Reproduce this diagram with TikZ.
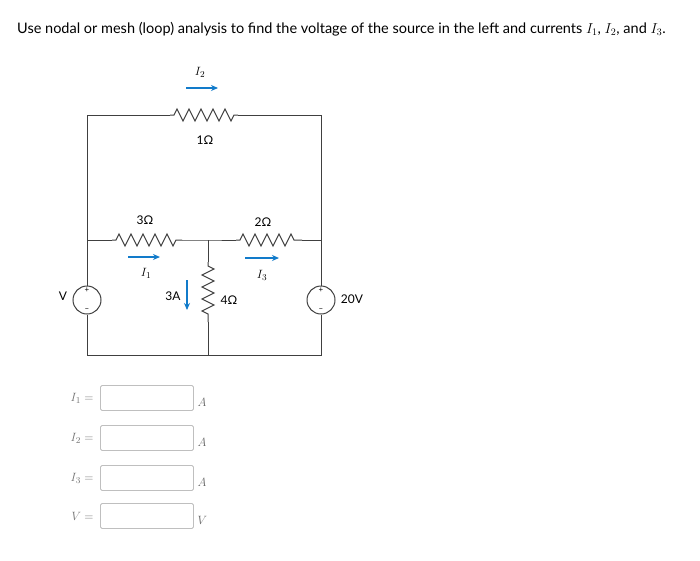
\documentclass[tikz,border=0pt]{standalone}
\usepackage{fontspec}
\setmainfont{Lato}
\usetikzlibrary{decorations.pathmorphing,arrows.meta}
\begin{document}
\begin{tikzpicture}[x=1pt,y=-1pt,
  wire/.style={draw=black!75,line width=1pt},
  res/.style={wire,decorate,decoration={zigzag,segment length=12pt,amplitude=6pt,pre length=4pt,post length=4pt}},
  cur/.style={draw=cyan!60!blue,line width=1.4pt,-{Stealth[length=7pt,width=6pt]}},
  lbl/.style={font=\fontsize{12}{14}\selectfont},
  mi/.style={font=\fontsize{13}{15}\selectfont},
  pm/.style={font=\fontsize{8}{9}\selectfont,inner sep=0pt},
  box/.style={draw=black!25,line width=0.8pt,rounded corners=1.5pt,minimum width=93pt,minimum height=25pt},
  src/.style={circle,draw=black!75,line width=1pt,minimum size=28pt,inner sep=0pt}]
\useasboundingbox (0,0) rectangle (700,560);
\fill[white] (0,0) rectangle (700,560);
\node[anchor=west,font=\fontsize{14.5}{17}\selectfont,inner sep=0pt] (title) at (17,29) {Use nodal or mesh (loop) analysis to find the voltage of the source in the left and currents $I_1$, $I_2$, and $I_3$.};
% nodes
\coordinate (tl) at (87,115); \coordinate (tr) at (321,115);
\coordinate (ml) at (87,240); \coordinate (mm) at (208,240); \coordinate (mr) at (321,240);
\coordinate (bl) at (87,355); \coordinate (bm) at (208,355); \coordinate (br) at (321,355);
\node[src] (vs1) at (87,300) {};
\node[src] (vs2) at (321,300) {};
\node[pm] at (87,290) {+}; \node[pm] at (87,310) {--};
\node[pm] at (321,290) {+}; \node[pm] at (321,310) {--};
\coordinate (r1a) at (170,115); \coordinate (r1b) at (238,115);
\coordinate (r3a) at (112,240); \coordinate (r3b) at (182,240);
\coordinate (r2a) at (236,240); \coordinate (r2b) at (302,240);
\coordinate (r4a) at (208,262); \coordinate (r4b) at (208,322);
\draw[wire] (vs1.north) -- (tl) -- (r1a);
\draw[res] (r1a) -- (r1b);
\draw[wire] (r1b) -- (tr) -- (vs2.north);
\draw[wire] (ml) -- (r3a); \draw[res] (r3a) -- (r3b); \draw[wire] (r3b) -- (mm) -- (r2a);
\draw[res] (r2a) -- (r2b); \draw[wire] (r2b) -- (mr);
\draw[wire] (mm) -- (r4a); \draw[res] (r4a) -- (r4b); \draw[wire] (r4b) -- (bm);
\draw[wire] (vs1.south) -- (bl) -- (br) -- (vs2.south);
% labels
\node[mi] (i2l) at (200,72) {$I_2$};
\coordinate (i2a) at (186,88); \coordinate (i2b) at (218,88); \draw[cur] (i2a) -- (i2b);
\node[lbl] (r1l) at (205,140) {1Ω};
\node[lbl] (r3l) at (145,220) {3Ω};
\coordinate (i1a) at (128,257); \coordinate (i1b) at (160,257); \draw[cur] (i1a) -- (i1b);
\node[mi] (i1l) at (146,273) {$I_1$};
\node[lbl] (r2l) at (263,222) {2Ω};
\coordinate (i3a) at (245,258); \coordinate (i3b) at (279,258); \draw[cur] (i3a) -- (i3b);
\node[mi] (i3l) at (262,275) {$I_3$};
\coordinate (aa) at (187,280); \coordinate (ab) at (187,310); \draw[cur] (aa) -- (ab);
\node[lbl] (al) at (173,296) {3A};
\node[lbl] (r4l) at (229,300) {4Ω};
\node[lbl] (vl) at (63,296) {V};
\node[lbl] (v2l) at (352,299) {20V};
% answers
\foreach \y/\t/\u [count=\k] in {398/I_1/A,438/I_2/A,478/I_3/A,516/V/V}{
  \node[box] (b\k) at (147,\y) {};
  \node[anchor=east,text=black!55,font=\fontsize{13}{15}\selectfont] (q\k) at (97,\y) {$\t =$};
  \node[anchor=west,text=black!60,font=\fontsize{13}{15}\selectfont] (u\k) at (194,\y+4) {$\u$};
}
\end{tikzpicture}
\end{document}
